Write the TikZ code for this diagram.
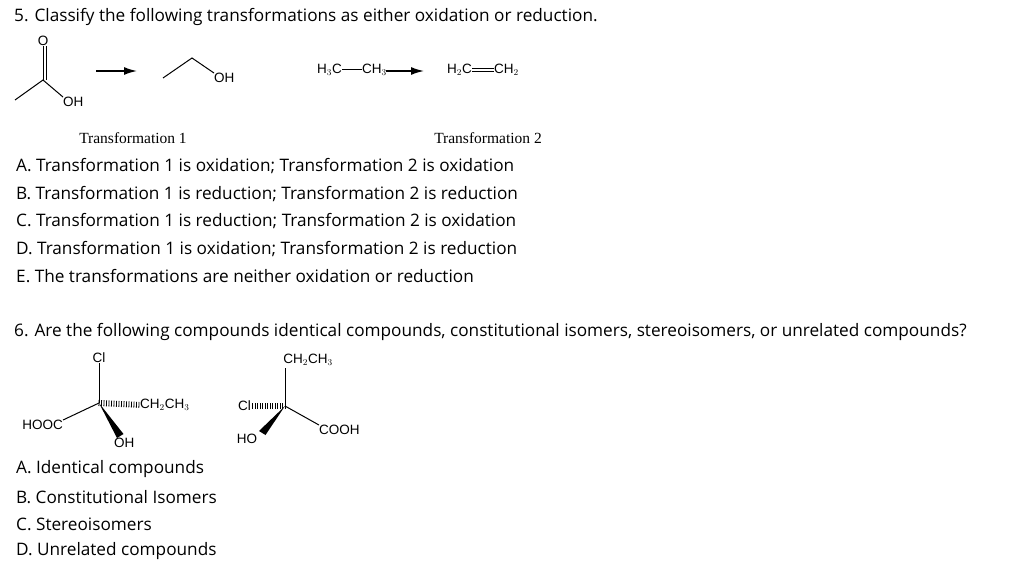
\documentclass[tikz,border=0pt]{standalone}
\usepackage{fontspec}
\setmainfont{Open Sans}
\newfontfamily\chem{Liberation Sans}
\newfontfamily\tms{Liberation Serif}
\usetikzlibrary{arrows.meta,decorations.pathreplacing}
\begin{document}
\begin{tikzpicture}[x=1pt,y=-1pt,
  txt/.style={anchor=west,inner sep=0pt,font=\fontsize{17.2}{20}\selectfont},
  lab/.style={inner sep=0pt,font=\chem\fontsize{13.5}{14}\selectfont},
  bnd/.style={line width=1pt},
  rxn/.style={line width=1.6pt,-{Latex[length=13pt,width=8pt]}},
  hash/.style={decorate,decoration={ticks,segment length=2.5pt,amplitude=3pt},line width=0.8pt}]
\useasboundingbox (0,0) rectangle (1024,575);
\node[txt] (q5) at (14,17) {5. Classify the following transformations as either oxidation or reduction.};
% acetic acid
\node[lab] (o1) at (43,41) {O};
\coordinate (c1) at (43,80);
\coordinate (me1) at (15,100);
\node[lab,anchor=west] (oh1) at (63,102) {OH};
\draw[bnd] (me1) -- (c1) -- (oh1.north west);
\draw[bnd] (c1) -- (o1.south);
\draw[bnd] ([xshift=3]c1) -- ([xshift=3]o1.south);
\coordinate (a1s) at (96,71); \coordinate (a1e) at (137,71);
\draw[rxn] (a1s) -- (a1e);
% ethanol
\coordinate (e1) at (163,78); \coordinate (e2) at (192,58);
\node[lab,anchor=west] (oh2) at (214,78) {OH};
\draw[bnd] (e1) -- (e2) -- (oh2.north west);
% ethane
\node[lab,anchor=east] (h3c) at (342,70) {H$_3$C};
\node[lab,anchor=west] (ch3) at (362,70) {CH$_3$};
\draw[bnd] (h3c) -- (ch3);
\coordinate (a2s) at (386,71); \coordinate (a2e) at (424,71);
\draw[rxn] (a2s) -- (a2e);
\node[lab,anchor=east] (h2c) at (472,70) {H$_2$C};
\node[lab,anchor=west] (ch2) at (494,70) {CH$_2$};
\draw[bnd] ([yshift=-1.5]h2c.east) -- ([yshift=-1.5]ch2.west);
\draw[bnd] ([yshift=1.5]h2c.east) -- ([yshift=1.5]ch2.west);
\node[inner sep=0pt,font=\tms\fontsize{15.5}{16}\selectfont] (t1) at (133,138) {Transformation 1};
\node[inner sep=0pt,font=\tms\fontsize{15.5}{16}\selectfont] (t2) at (488,138) {Transformation 2};
\node[txt] (a) at (16,166) {A. Transformation 1 is oxidation; Transformation 2 is oxidation};
\node[txt] (b) at (16,194) {B. Transformation 1 is reduction; Transformation 2 is reduction};
\node[txt] (c) at (16,221) {C. Transformation 1 is reduction; Transformation 2 is oxidation};
\node[txt] (d) at (16,249) {D. Transformation 1 is oxidation; Transformation 2 is reduction};
\node[txt] (e) at (16,276) {E. The transformations are neither oxidation or reduction};
\node[txt] (q6) at (14,332) {6. Are the following compounds identical compounds, constitutional isomers, stereoisomers, or unrelated compounds?};
% molecule 1
\coordinate (k1) at (99,403);
\node[lab] (cl1) at (99,358) {Cl};
\node[lab,anchor=west] (et1) at (140,405) {CH$_2$CH$_3$};
\node[lab,anchor=east] (hooc) at (63,425) {HOOC};
\node[lab,anchor=west] (oh3) at (114,443) {OH};
\draw[bnd] (k1) -- (cl1.south);
\draw[bnd] (k1) -- (hooc.north east);
\draw[hash] (k1) -- (et1.west);
\fill (k1) -- (123.5,434) -- (117,438) -- cycle;
% molecule 2
\coordinate (k2) at (285,406);
\node[lab] (et2) at (308,360) {CH$_2$CH$_3$};
\node[lab,anchor=east] (cl2) at (251,406) {Cl};
\node[lab,anchor=west] (cooh) at (319,430) {COOH};
\node[lab] (ho) at (247,439) {HO};
\draw[bnd] (k2) -- (285,368);
\draw[bnd] (k2) -- (cooh.north west);
\draw[hash] (k2) -- (cl2.east);
\fill (k2) -- (265.5,435) -- (259,431) -- cycle;
\node[txt] (a6) at (16,469) {A. Identical compounds};
\node[txt] (b6) at (16,497) {B. Constitutional Isomers};
\node[txt] (c6) at (16,524) {C. Stereoisomers};
\node[txt] (d6) at (16,551) {D. Unrelated compounds};
\end{tikzpicture}
\end{document}
